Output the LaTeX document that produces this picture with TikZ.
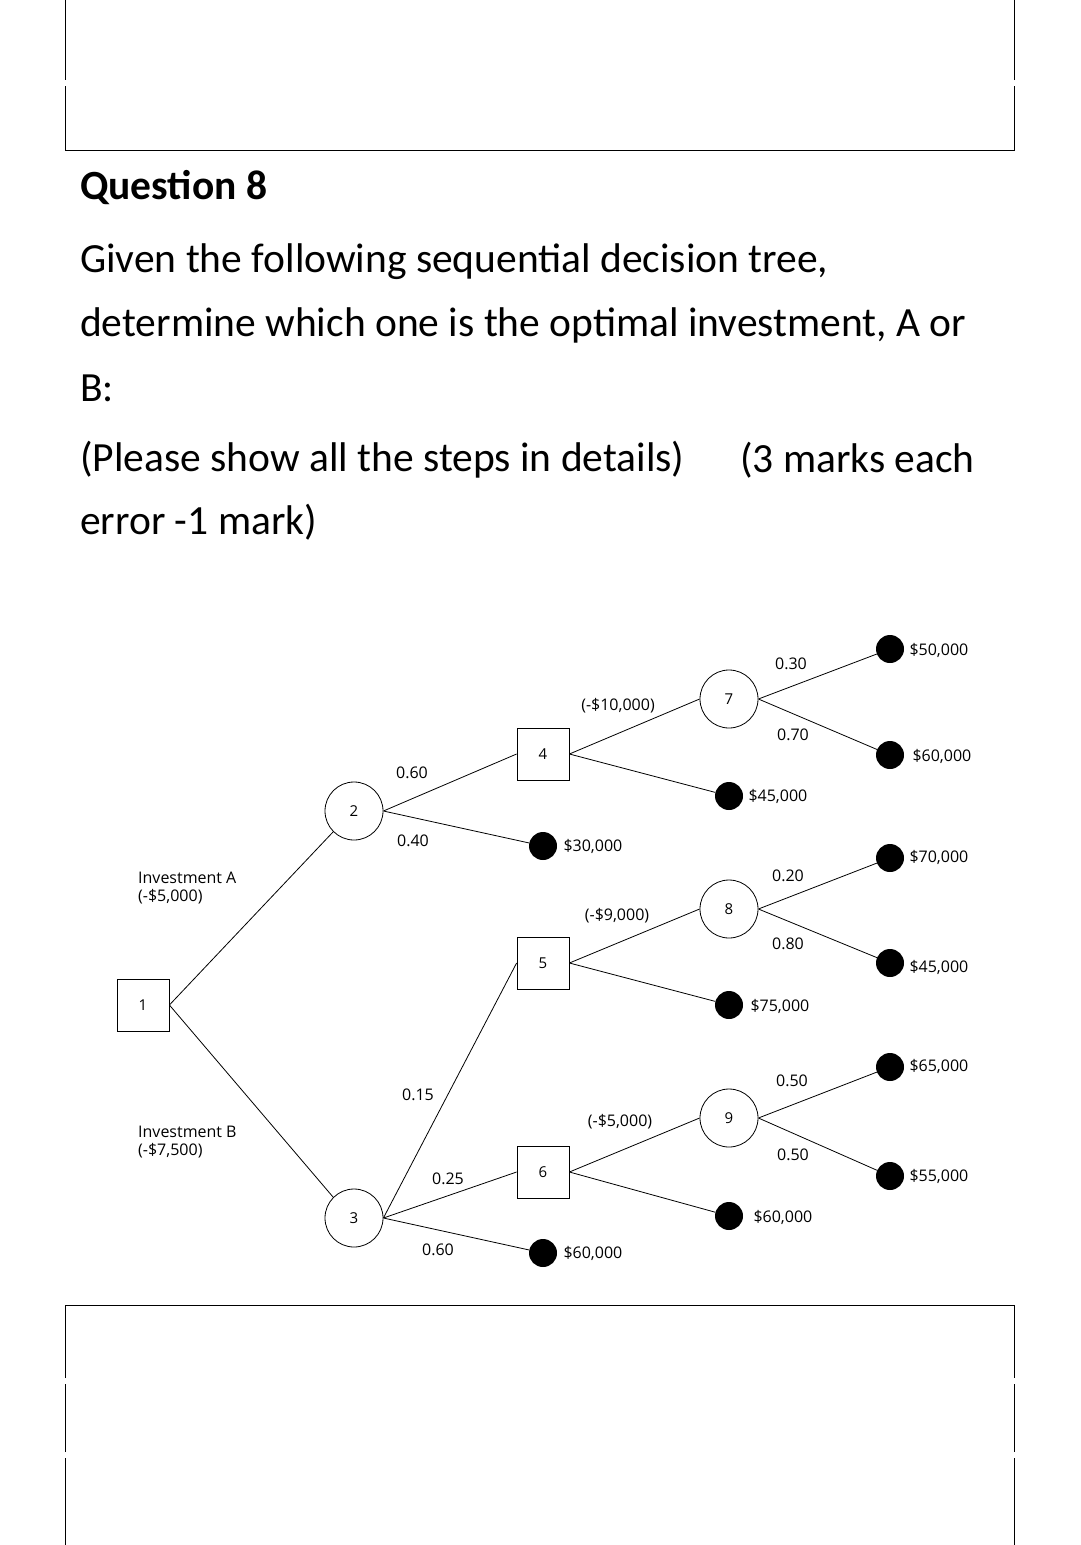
\documentclass[tikz,border=0pt]{standalone}
\usepackage{fontspec}
\setmainfont{Carlito}
\newfontfamily\diagfont{Open Sans}
\begin{document}
\begin{tikzpicture}[x=1pt,y=-1pt,
 box/.style={draw,thick,minimum size=52pt,inner sep=0pt,font=\diagfont\fontsize{15}{17}\selectfont},
 chance/.style={draw,thick,circle,minimum size=58pt,inner sep=0pt,font=\diagfont\fontsize{15}{17}\selectfont},
 term/.style={fill=black,circle,minimum size=28pt,inner sep=0pt},
 lab/.style={font=\diagfont\fontsize{16}{18}\selectfont},
 big/.style={font=\fontsize{41.5}{44}\selectfont,anchor=west,inner sep=0pt},
 ed/.style={thick}]
\useasboundingbox (0,0) rectangle (1080,1545);
% frames
\draw[thick] (65,0)--(65,80) (65,86)--(65,150)--(1014,150)--(1014,86) (1014,80)--(1014,0);
\draw[thick] (65,1545)--(65,1458) (65,1452)--(65,1384) (65,1378)--(65,1305)--(1014,1305)--(1014,1378) (1014,1384)--(1014,1452) (1014,1458)--(1014,1545);
% text
\node[big,font=\fontsize{41.5}{44}\selectfont\bfseries] at (80,188) {Question 8};
\node[big] at (80,262) {Given the following sequential decision tree,};
\node[big] at (80,325) {determine which one is the optimal investment, A or};
\node[big] at (80,388) {B:};
\node[big] at (80,460) {(Please show all the steps in details)};
\node[big] at (740,460) {(3 marks each};
\node[big] at (80,522) {error -1 mark)};
% nodes
\node[box] (n1) at (143,1005) {1};
\node[chance] (n2) at (354,811) {2};
\node[chance] (n3) at (354,1218) {3};
\node[box] (n4) at (543,754) {4};
\node[box] (n5) at (543,963) {5};
\node[box] (n6) at (543,1172) {6};
\node[chance] (n7) at (729,699) {7};
\node[chance] (n8) at (729,909) {8};
\node[chance] (n9) at (729,1118) {9};
\node[term] (t1) at (543,846) {};
\node[term] (t2) at (729,796) {};
\node[term] (t3) at (890,649) {};
\node[term] (t4) at (890,755) {};
\node[term] (t5) at (890,858) {};
\node[term] (t6) at (890,963) {};
\node[term] (t7) at (729,1005) {};
\node[term] (t8) at (890,1067) {};
\node[term] (t9) at (890,1176) {};
\node[term] (t10) at (729,1216) {};
\node[term] (t11) at (543,1253) {};
% edges
\draw[ed] (n1.east)--(n2.south west) (n1.east)--(n3.north west);
\draw[ed] (n2.east)--(n4.west) (n2.east)--(t1);
\draw[ed] (n3.east)--(n5.west) (n3.east)--(n6.west) (n3.east)--(t11);
\draw[ed] (n4.east)--(n7.west) (n4.east)--(t2);
\draw[ed] (n5.east)--(n8.west) (n5.east)--(t7);
\draw[ed] (n6.east)--(n9.west) (n6.east)--(t10);
\draw[ed] (n7.east)--(t3) (n7.east)--(t4);
\draw[ed] (n8.east)--(t5) (n8.east)--(t6);
\draw[ed] (n9.east)--(t8) (n9.east)--(t9);
% labels
\node[lab,anchor=west,align=left,inner sep=0pt] (la) at (138,888) {Investment A\\(-\$5,000)};
\node[lab,anchor=west,align=left,inner sep=0pt] (lb) at (138,1142) {Investment B\\(-\$7,500)};
\node[lab] (p1) at (412,773) {0.60};
\node[lab] (p2) at (413,841) {0.40};
\node[lab] (p3) at (418,1095) {0.15};
\node[lab] (p4) at (448,1179) {0.25};
\node[lab] (p5) at (438,1250) {0.60};
\node[lab] (c1) at (618,706) {(-\$10,000)};
\node[lab] (c2) at (617,916) {(-\$9,000)};
\node[lab] (c3) at (620,1122) {(-\$5,000)};
\node[lab] (p6) at (791,664) {0.30};
\node[lab] (p7) at (793,735) {0.70};
\node[lab] (p8) at (788,876) {0.20};
\node[lab] (p9) at (788,944) {0.80};
\node[lab] (p10) at (792,1081) {0.50};
\node[lab] (p11) at (793,1155) {0.50};
\node[lab,anchor=west] at (906,650) {\$50,000};
\node[lab,anchor=west] at (909,756) {\$60,000};
\node[lab,anchor=west] at (745,796) {\$45,000};
\node[lab,anchor=west] at (560,846) {\$30,000};
\node[lab,anchor=west] at (906,857) {\$70,000};
\node[lab,anchor=west] at (906,967) {\$45,000};
\node[lab,anchor=west] at (747,1006) {\$75,000};
\node[lab,anchor=west] at (906,1066) {\$65,000};
\node[lab,anchor=west] at (906,1176) {\$55,000};
\node[lab,anchor=west] at (750,1217) {\$60,000};
\node[lab,anchor=west] at (560,1253) {\$60,000};
\end{tikzpicture}
\end{document}
